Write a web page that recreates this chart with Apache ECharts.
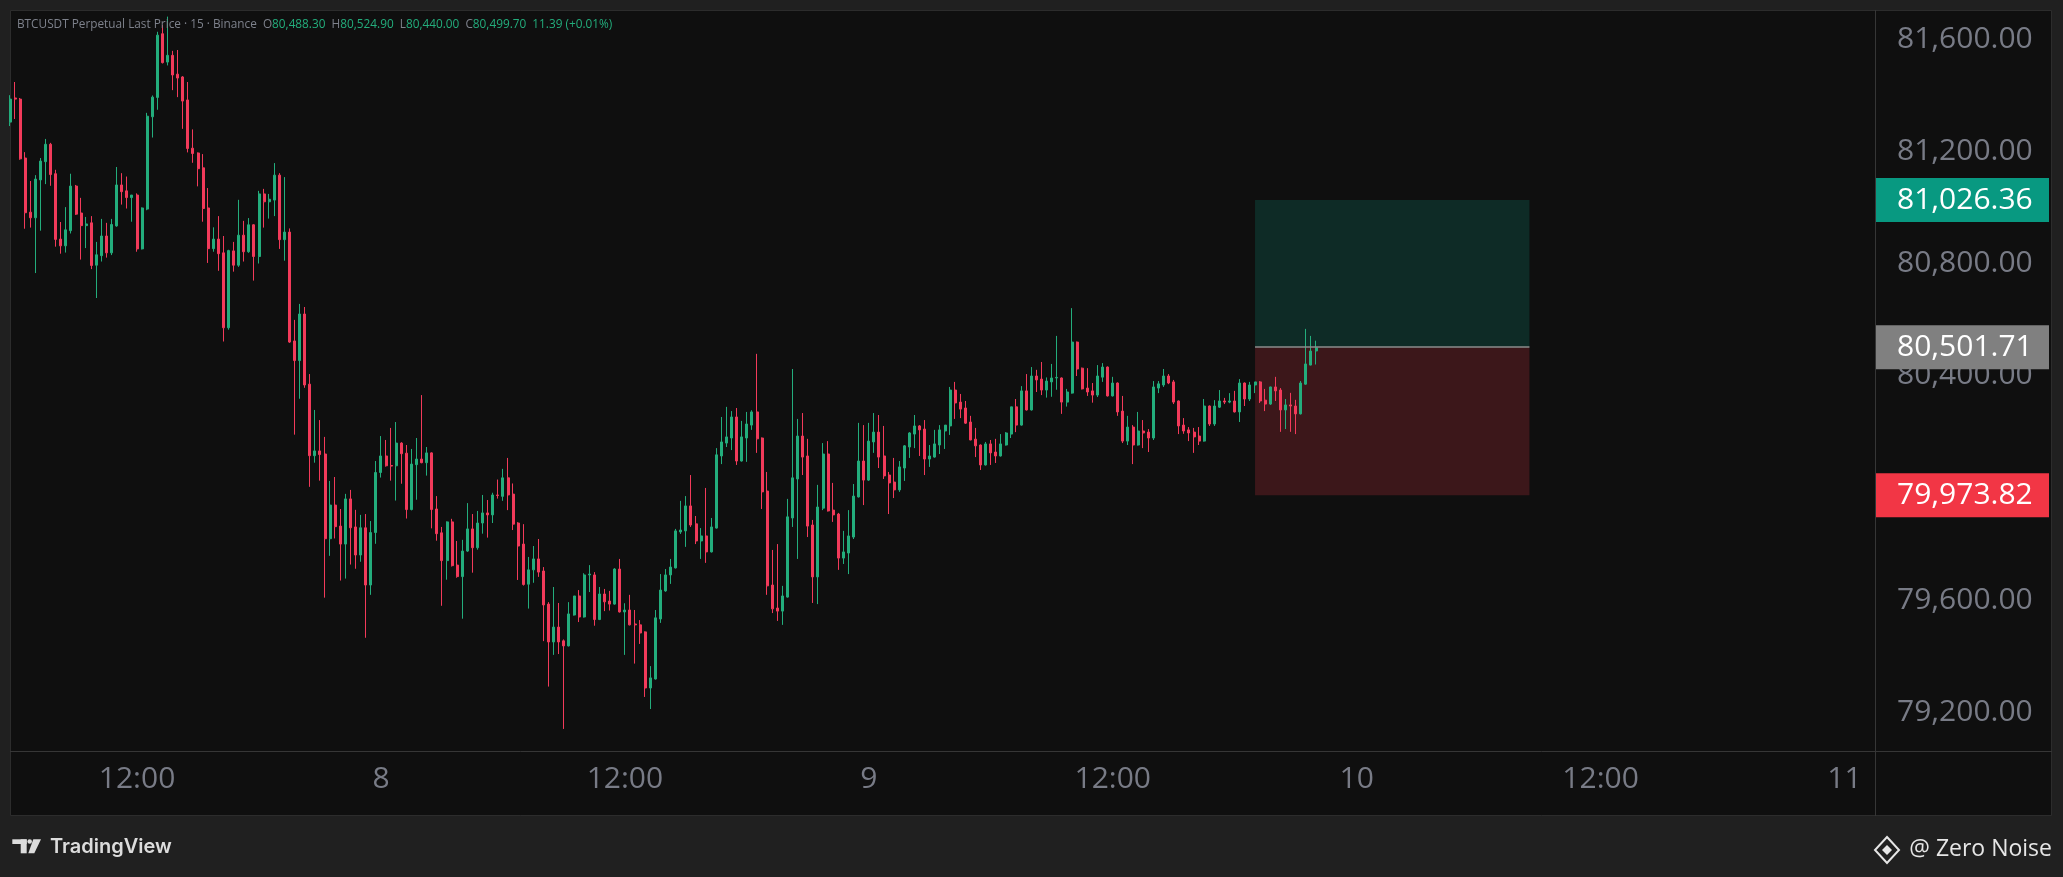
<!DOCTYPE html>
<html>
<head>
<meta charset="utf-8">
<script src="https://cdn.jsdelivr.net/npm/echarts@6.0.0/dist/echarts.min.js"></script>
<style>
html,body{margin:0;padding:0;background:#202020;}
#chart{width:2063px;height:877px;}
</style>
</head>
<body>
<div id="chart"></div>
<script>
// 15-minute candles, index 0 = day 8 00:00
const firstIndex = -73;
const lastSlot = 294;

const xTickIndex = [-48, 0, 48, 96, 144, 192, 240, 288];
const xTickText = ['12:00', '8', '12:00', '9', '12:00', '10', '12:00', '11'];
const yTicks = [79200, 79600, 80000, 80400, 80800, 81200, 81600];

const opens = [
81304,81390,81386,81176,80983,80963,81098,81163,81225,81120,
80887,80863,80917,81076,80980,80935,80945,80794,80828,80898,
80838,80934,81080,81059,81035,81044,80852,80994,81323,81392,
81619,81518,81542,81475,81465,81383,81211,81194,81141,80998,
80853,80887,80838,80571,80845,80794,80901,80842,80938,80825,
81048,81020,81026,81115,80885,80912,80524,80454,80620,80370,
80115,80132,80121,79819,79939,79864,79800,79961,79861,79761,
79858,79654,79841,80055,80114,80080,80079,80160,80124,79923,
80083,80103,80090,80125,79925,79840,79741,79879,79725,79684,
79775,79854,79787,79875,79911,79904,79975,79970,80036,79978,
79875,79800,79657,79708,79747,79704,79586,79451,79504,79455,
79437,79547,79615,79540,79690,79690,79531,79622,79597,79586,
79711,79558,79565,79515,79512,79487,79287,79319,79533,79633,
79690,79715,79843,79847,79936,79872,79811,79829,79772,79857,
80114,80160,80178,80253,80096,80178,80224,80271,80178,79989,
79654,79572,79561,79611,79893,80032,80185,80114,79868,79683,
79928,80121,79921,79907,79750,79768,79825,79968,80096,80028,
80164,80199,80114,80046,80021,79993,80071,80146,80192,80221,
80210,80103,80110,80153,80203,80221,80349,80306,80285,80235,
80174,80153,80082,80157,80128,80114,80153,80192,80289,80224,
80346,80278,80399,80388,80349,80378,80392,80392,80306,80338,
80520,80427,80356,80346,80331,80395,80431,80328,80374,80274,
80167,80217,80153,80203,80199,80178,80356,80367,80399,80378,
80310,80224,80207,80199,80185,80167,80292,80228,80288,80310,
80306,80310,80271,80374,80317,80367,80378,80313,80299,80360,
80349,80278,80296,80292,80264,80370,80438,80488.3
];
const highs = [
81400,81447,81390,81197,81094,81115,81176,81244,81230,81134,
80948,81001,81120,81080,81034,80966,80969,80877,80959,80945,
80959,81144,81122,81110,81044,81050,81000,81337,81399,81626,
81650,81680,81558,81561,81468,81447,81278,81196,81190,81069,
80929,80969,80898,80849,80877,81027,80952,80962,80940,81059,
81066,81048,81158,81122,81108,80925,80599,80656,80645,80406,
80278,80242,80182,80025,80039,79925,79979,79993,79922,79904,
79907,79882,80096,80185,80171,80214,80235,80163,80153,80139,
80178,80331,80146,80127,79971,79861,79881,79890,79811,79815,
79946,79907,79918,79975,79957,79983,80030,80068,80107,80016,
79878,79871,79754,79793,79818,79718,79593,79647,79590,79460,
79593,79615,79636,79696,79725,79700,79647,79640,79633,79714,
79747,79589,79619,79565,79529,79489,79365,79565,79693,79711,
79747,79854,79954,79971,80046,79900,79857,80000,79893,80142,
80253,80289,80274,80285,80239,80271,80277,80478,80180,80057,
79779,79800,79651,79961,80424,80246,80267,80175,79886,80011,
80160,80167,80018,79911,79847,79921,80014,80232,80224,80232,
80267,80260,80221,80057,80107,80096,80153,80199,80260,80224,
80242,80153,80207,80224,80224,80360,80378,80335,80310,80257,
80214,80155,80164,80171,80175,80192,80199,80289,80317,80363,
80406,80431,80421,80449,80394,80442,80542,80394,80353,80641,
80522,80429,80427,80374,80438,80445,80433,80396,80376,80328,
80257,80224,80271,80242,80210,80381,80381,80424,80406,80385,
80312,80249,80217,80214,80217,80317,80294,80313,80349,80321,
80338,80346,80388,80376,80378,80378,80381,80353,80361,80396,
80356,80317,80339,80314,80381,80567,80542,80524.9
];
const lows = [
81290,81315,81170,80924,80928,80766,80917,81083,81077,80860,
80835,80839,80907,80973,80814,80855,80780,80677,80807,80821,
80830,80931,81010,80996,80949,80842,80850,80990,81249,81348,
81513,81506,81418,81393,81280,81196,81159,81075,80949,80802,
80842,80774,80522,80564,80771,80788,80807,80838,80739,80800,
80928,80960,80969,80852,80810,80517,80190,80318,80357,80004,
80090,80026,79609,79758,79820,79670,79677,79727,79712,79737,
79466,79619,79801,80037,80076,80026,79955,80015,79891,79920,
79958,80088,80044,79856,79812,79580,79673,79720,79680,79534,
79772,79698,79780,79837,79823,79875,79962,79954,79921,79850,
79672,79652,79570,79662,79683,79454,79292,79405,79408,79141,
79435,79545,79522,79538,79629,79509,79529,79561,79563,79584,
79556,79405,79510,79374,79444,79255,79212,79317,79519,79630,
79658,79713,79836,79790,79861,79800,79747,79733,79770,79855,
80085,80146,80135,80082,80094,80093,80207,80125,79925,79619,
79554,79526,79512,79609,79861,79747,80046,79825,79590,79586,
79921,79916,79879,79708,79729,79693,79818,79966,79939,80025,
80125,80071,80032,79907,79964,79986,80025,80107,80142,80114,
80046,80075,80108,80121,80139,80189,80246,80249,80228,80170,
80110,80064,80080,80082,80089,80112,80151,80178,80199,80222,
80276,80276,80342,80331,80322,80325,80350,80264,80290,80336,
80399,80351,80328,80304,80324,80378,80326,80326,80257,80160,
80153,80085,80151,80142,80128,80171,80338,80360,80370,80299,
80192,80193,80167,80125,80153,80165,80221,80221,80285,80299,
80302,80269,80235,80292,80310,80338,80303,80274,80296,80310,
80200,80210,80200,80192,80262,80368,80437,80440
];
const closes = [
81386,81386,81173,80981,80963,81101,81165,81225,81117,80886,
80863,80920,81076,80976,80935,80941,80793,80831,80898,80838,
80939,81080,81056,81035,81044,80852,80998,81325,81393,81614,
81516,81542,81472,81461,81379,81210,81192,81138,80996,80853,
80887,80835,80571,80846,80794,80901,80842,80938,80825,81048,
81020,81029,81115,80885,80912,80520,80454,80620,80367,80115,
80132,80119,79819,79939,79862,79800,79961,79858,79761,79858,
79654,79841,80055,80114,80079,80078,80160,80122,79923,80085,
80103,80090,80125,79923,79837,79741,79879,79723,79684,79775,
79854,79787,79875,79911,79904,79975,79973,80036,79975,79871,
79793,79656,79708,79747,79700,79583,79451,79504,79451,79437,
79551,79615,79540,79690,79693,79531,79622,79594,79586,79711,
79558,79565,79512,79512,79483,79287,79323,79537,79636,79690,
79718,79847,79850,79936,79868,79811,79829,79772,79861,80118,
80164,80182,80253,80096,80182,80228,80271,80175,79986,79651,
79569,79561,79615,79897,80036,80185,80110,79864,79683,79932,
80121,79918,79904,79750,79772,79829,79971,80096,80028,80167,
80199,80110,80043,80018,79993,80075,80150,80196,80221,80207,
80103,80114,80157,80207,80224,80349,80303,80281,80231,80171,
80150,80082,80157,80125,80114,80157,80196,80289,80224,80346,
80278,80399,80385,80349,80381,80392,80394,80306,80342,80520,
80424,80353,80342,80331,80399,80431,80328,80374,80271,80167,
80217,80153,80203,80196,80178,80360,80371,80399,80374,80306,
80221,80203,80196,80182,80167,80292,80228,80292,80310,80306,
80310,80271,80374,80317,80367,80378,80310,80299,80360,80346,
80278,80296,80292,80264,80374,80442,80488,80499.7
];

const entryPrice = 80501.71;
const takeProfit = 81026.36;
const stopLoss = 79973.82;
const positionStart = 172;
const positionEnd = 226;

const headerName = 'BTCUSDT Perpetual Last Price · 15 · Binance';
const headerChange = '11.39 (+0.01%)';

// ---------- build ----------
const categories = [];
for (let i = firstIndex; i <= lastSlot; i++) {
  const m = i * 15;
  const day = 8 + Math.floor(m / 1440);
  const r = ((m % 1440) + 1440) % 1440;
  categories.push(day + ' ' + String(Math.floor(r / 60)).padStart(2, '0') + ':' + String(r % 60).padStart(2, '0'));
}
const tickLabelByCat = {};
xTickIndex.forEach((t, k) => { tickLabelByCat[t - firstIndex] = xTickText[k]; });
const cat = i => categories[i - firstIndex];
const candles = opens.map((o, k) => [o, closes[k], lows[k], highs[k]]);
const fmt = v => Number(v).toLocaleString('en-US', {minimumFractionDigits: 2, maximumFractionDigits: 2});
const last = opens.length - 1;

const UP = '#23ad7c', DOWN = '#f23a5a', AXIS_TEXT = '#787b86', FONT = 'Open Sans';
const HFS = 11.8;

function priceLabel(value, bg) {
  return {
    yAxis: value,
    lineStyle: {width: 0, color: 'rgba(0,0,0,0)', opacity: 1},
    label: {
      show: true, position: 'end', distance: 1, opacity: 1,
      formatter: () => fmt(value),
      color: '#ffffff', fontSize: 30, fontFamily: FONT, lineHeight: 30,
      backgroundColor: bg, padding: [7, 0, 7, 21], width: 152, align: 'left', verticalAlign: 'middle'
    }
  };
}

const chart = echarts.init(document.getElementById('chart'), null, {renderer: 'canvas'});
chart.setOption({
  backgroundColor: '#202020',
  animation: false,
  textStyle: {fontFamily: FONT},
  title: {
    left: 17, top: 17, padding: 0,
    text: '{g|' + headerName + '}  {g|O}{v|' + fmt(opens[last]) + '}  {g|H}{v|' + fmt(highs[last]) +
          '}  {g|L}{v|' + fmt(lows[last]) + '}  {g|C}{v|' + fmt(closes[last]) + '}  {v|' + headerChange + '}',
    textStyle: {
      fontSize: HFS, fontFamily: FONT, color: '#7e828c', lineHeight: 16, fontWeight: 'normal',
      rich: {
        g: {color: '#7e828c', fontSize: HFS, fontFamily: FONT, lineHeight: 16},
        v: {color: UP, fontSize: HFS, fontFamily: FONT, lineHeight: 16}
      }
    }
  },
  grid: {left: 10, right: 188, top: 10, bottom: 126},
  xAxis: {
    type: 'category', data: categories, boundaryGap: false,
    axisLine: {show: false}, axisTick: {show: false}, splitLine: {show: false},
    axisLabel: {
      interval: i => tickLabelByCat[i] !== undefined,
      formatter: (v, i) => tickLabelByCat[i] || '',
      color: AXIS_TEXT, fontSize: 30, fontFamily: FONT, margin: 13, lineHeight: 30
    }
  },
  yAxis: {
    type: 'value', position: 'right', min: 79062.4, max: 81703.6,
    axisLine: {show: false}, axisTick: {show: false}, splitLine: {show: false},
    axisLabel: {
      customValues: yTicks, formatter: v => fmt(v),
      color: AXIS_TEXT, fontSize: 30, fontFamily: FONT, margin: 22, align: 'left'
    }
  },
  graphic: [
    {type: 'rect', z: -10, silent: true, shape: {x: 10.5, y: 10.5, width: 2041, height: 805},
     style: {fill: '#0f0f0f', stroke: '#2c2c2c', lineWidth: 1}},
    {type: 'line', z: 10, silent: true, shape: {x1: 10, y1: 751.5, x2: 2052, y2: 751.5},
     style: {stroke: '#363636', lineWidth: 1}},
    {type: 'line', z: 10, silent: true, shape: {x1: 1875.5, y1: 10, x2: 1875.5, y2: 816},
     style: {stroke: '#363636', lineWidth: 1}},
    // TradingView logo
    {type: 'rect', silent: true, shape: {x: 12.3, y: 839.3, width: 14.4, height: 4.7}, style: {fill: '#dcdcdc'}},
    {type: 'rect', silent: true, shape: {x: 20.7, y: 839.3, width: 6, height: 14}, style: {fill: '#dcdcdc'}},
    {type: 'circle', silent: true, shape: {cx: 29.7, cy: 841.5, r: 2.3}, style: {fill: '#dcdcdc'}},
    {type: 'polygon', silent: true, shape: {points: [[33.3, 839.3], [41, 839.3], [34.3, 853.3], [28.3, 853.3]]}, style: {fill: '#dcdcdc'}},
    {type: 'text', silent: true, x: 50, y: 847,
     style: {text: 'TradingView', fill: '#dcdcdc', font: '600 20px Inter', verticalAlign: 'middle', align: 'left'}},
    // Zero Noise badge
    {type: 'polygon', silent: true, shape: {points: [[1887, 837], [1899, 850], [1887, 863], [1875, 850]]},
     style: {fill: 'none', stroke: '#e6e6e6', lineWidth: 2}},
    {type: 'polygon', silent: true, shape: {points: [[1887, 845], [1892, 850], [1887, 855], [1882, 850]]},
     style: {fill: '#e6e6e6'}},
    {type: 'text', silent: true, x: 2052, y: 849,
     style: {text: '@ Zero Noise', fill: '#e6e6e6', font: '23px "Open Sans"', verticalAlign: 'middle', align: 'right'}}
  ],
  series: [{
    type: 'candlestick',
    data: candles,
    barWidth: 2.5,
    itemStyle: {color: UP, color0: DOWN, borderColor: UP, borderColor0: DOWN, borderWidth: 1},
    markArea: {
      silent: true,
      data: [
        [{xAxis: cat(positionStart), yAxis: entryPrice, itemStyle: {color: 'rgba(8,153,129,0.2)'}},
         {xAxis: cat(positionEnd), yAxis: takeProfit}],
        [{xAxis: cat(positionStart), yAxis: stopLoss, itemStyle: {color: 'rgba(242,54,69,0.2)'}},
         {xAxis: cat(positionEnd), yAxis: entryPrice}]
      ]
    },
    markLine: {
      silent: true, symbol: ['none', 'none'], animation: false, z: 20,
      data: [
        priceLabel(takeProfit, '#089981'),
        priceLabel(entryPrice, '#808080'),
        priceLabel(stopLoss, '#f23645'),
        [{coord: [cat(positionStart), entryPrice], lineStyle: {color: '#8c8c8c', width: 1.5, type: 'solid', opacity: 1}, label: {show: false}},
         {coord: [cat(positionEnd), entryPrice]}]
      ]
    }
  }]
});
</script>
</body>
</html>
